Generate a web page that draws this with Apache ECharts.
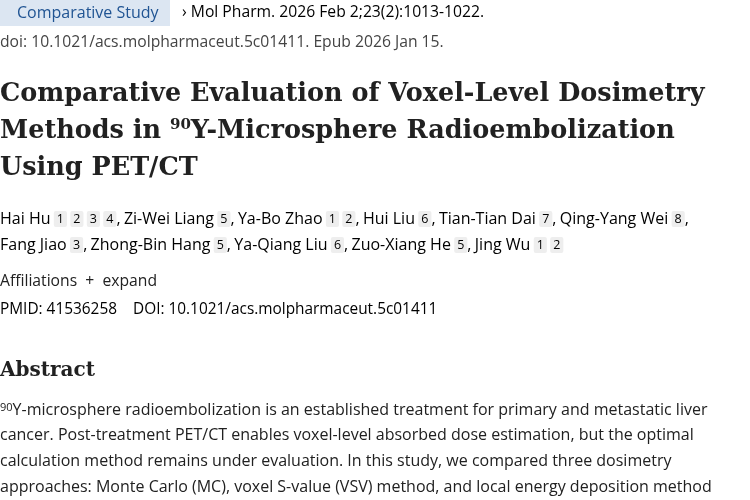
<!DOCTYPE html>
<html><head><meta charset="utf-8">
<script src="https://cdn.jsdelivr.net/npm/echarts@6/dist/echarts.min.js"></script>
<style>html,body{margin:0;padding:0;background:#fff}#c{width:750px;height:500px}</style>
</head><body><div id="c"></div>
<script>
const badgeText = "Comparative Study";
const journal = "Mol Pharm.";
const citation = " 2026 Feb 2;23(2):1013-1022.";
const doiLine = "doi: 10.1021/acs.molpharmaceut.5c01411. Epub 2026 Jan 15.";
const titleLines = ["Comparative Evaluation of Voxel-Level Dosimetry", "Methods in {sup|90}Y-Microsphere Radioembolization", "Using PET/CT"];
const authorsLine1 = [["Hai Hu",["1","2","3","4"]],["Zi-Wei Liang",["5"]],["Ya-Bo Zhao",["1","2"]],["Hui Liu",["6"]],["Tian-Tian Dai",["7"]],["Qing-Yang Wei",["8"]]];
const authorsLine2 = [["Fang Jiao",["3"]],["Zhong-Bin Hang",["5"]],["Ya-Qiang Liu",["6"]],["Zuo-Xiang He",["5"]],["Jing Wu",["1","2"]]];
const pmid = "41536258";
const doi = "10.1021/acs.molpharmaceut.5c01411";
const abstractLines = [
 "{sup|90}Y-microsphere radioembolization is an established treatment for primary and metastatic liver",
 "cancer. Post-treatment PET/CT enables voxel-level absorbed dose estimation, but the optimal",
 "calculation method remains under evaluation. In this study, we compared three dosimetry",
 "approaches: Monte Carlo (MC), voxel S-value (VSV) method, and local energy deposition method"];

const F = "'Segoe UI','Open Sans','Noto Sans',sans-serif";
const SERIF = "'DejaVu Serif',serif";
const BLUE = "#0071bc", DARK = "#212121";
const FS = 15.7;

function authorText(list, last){
  return list.map((a,i)=>{
    let s = "{a|"+a[0]+"} " + a[1].map(n=>"{s|"+n+"}").join(" ");
    if(i<list.length-1 || !last) s += "{t|,} ";
    return s;
  }).join("");
}
const authRich = {
  a:{fontFamily:F,fontSize:16,color:BLUE},
  s:{fontFamily:F,fontSize:12.5,color:"#444",backgroundColor:"#eeeeee",padding:[2,3,1,3],borderRadius:2,verticalAlign:"top",lineHeight:14},
  t:{fontFamily:F,fontSize:16,color:DARK}
};
const g = [];
g.push({type:'rect',shape:{x:0,y:0,width:170,height:26},style:{fill:'#dce6f2'}});
g.push({type:'text',x:17,y:13,style:{text:badgeText,font:"16px "+F,fill:"#205493",verticalAlign:'middle'}});
g.push({type:'text',x:182,y:13,style:{text:"{b|› "+journal+"}{d|"+citation+"}",verticalAlign:'middle',rich:{b:{fontFamily:F,fontSize:FS,color:BLUE},d:{fontFamily:F,fontSize:FS,color:"#444"}}}});
g.push({type:'text',x:0,y:43,style:{text:doiLine,font:FS+"px "+F,fill:"#444",verticalAlign:'middle'}});
titleLines.forEach((t,i)=>{
  g.push({type:'text',x:0,y:94+i*37,style:{text:t,verticalAlign:'middle',rich:{sup:{fontFamily:SERIF,fontWeight:'bold',fontSize:15,color:DARK,verticalAlign:'top',lineHeight:24}},fontFamily:SERIF,fontWeight:'bold',fontSize:25.5,fill:DARK}});
});
g.push({type:'text',x:0,y:219,style:{text:authorText(authorsLine1,false),verticalAlign:'middle',rich:authRich}});
g.push({type:'text',x:0,y:245,style:{text:authorText(authorsLine2,true),verticalAlign:'middle',rich:authRich}});
g.push({type:'text',x:0,y:282,style:{text:"Affiliations  +  expand",font:FS+"px "+F,fill:DARK,verticalAlign:'middle'}});
g.push({type:'text',x:0,y:310,style:{text:"{p|PMID: "+pmid+"    DOI: }{l|"+doi+"}",verticalAlign:'middle',rich:{p:{fontFamily:F,fontSize:15.4,color:DARK},l:{fontFamily:F,fontSize:15.4,color:BLUE}}}});
g.push({type:'text',x:0,y:371,style:{text:"Abstract",font:"bold 20px "+SERIF,fill:DARK,verticalAlign:'middle'}});
abstractLines.forEach((t,i)=>{
  g.push({type:'text',x:0,y:410+i*25.7,style:{text:t,verticalAlign:'middle',fontFamily:F,fontSize:16,fill:DARK,rich:{sup:{fontFamily:F,fontSize:11,color:DARK,verticalAlign:'top',lineHeight:12}}}});
});
const chart = echarts.init(document.getElementById('c'));
chart.setOption({graphic:g});
</script></body></html>
